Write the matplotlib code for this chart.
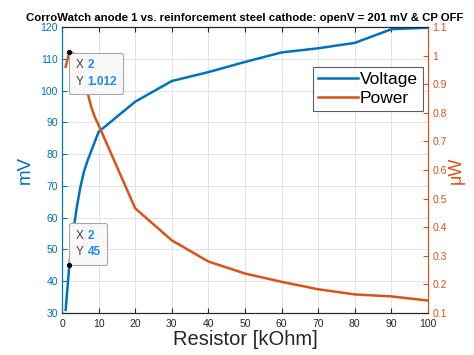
import matplotlib
matplotlib.use('Agg')
import matplotlib.pyplot as plt
from matplotlib.offsetbox import TextArea, HPacker, VPacker, AnnotationBbox

plt.rcParams['font.family'] = ['Liberation Sans', 'DejaVu Sans']

# Data
resistor = [1, 2, 3, 4, 5, 6, 7, 8, 9, 10, 20, 30, 40, 50, 60, 70, 80, 90, 100]
voltage = [31, 45, 55, 63, 69.5, 74.5, 78, 81, 84, 87, 96.5, 103, 105.8, 109,
           112, 113.3, 115, 119.3, 119.8]
power = [0.961, 1.012, 1.008, 0.992, 0.966, 0.925, 0.869, 0.820, 0.784, 0.757,
         0.466, 0.354, 0.280, 0.238, 0.209, 0.183, 0.165, 0.158, 0.1435]

x_ticks = list(range(0, 101, 10))
left_ticks = list(range(30, 121, 10))
right_ticks = [0.1, 0.2, 0.3, 0.4, 0.5, 0.6, 0.7, 0.8, 0.9, 1, 1.1]
right_labels = ['0.1', '0.2', '0.3', '0.4', '0.5', '0.6', '0.7', '0.8', '0.9', '1', '1.1']

blue = '#0072BD'
orange = '#D95319'
dark = '#262626'
tip_blue = '#1a8cf0'

fig = plt.figure(figsize=(4.74, 3.55), dpi=100)
ax = fig.add_axes([62 / 474, 1 - 313 / 355, 366 / 474, 286 / 355])
ax2 = ax.twinx()

l1, = ax.plot(resistor, voltage, color=blue, lw=1.8, label='Voltage')
l2, = ax2.plot(resistor, power, color=orange, lw=1.8, label='Power')

ax.set_xlim(0, 100)
ax.set_ylim(30, 120)
ax2.set_ylim(0.1, 1.1)
ax.set_xticks(x_ticks)
ax.set_yticks(left_ticks)
ax2.set_yticks(right_ticks)
ax2.set_yticklabels(right_labels)

ax.grid(True, color='#e3e3e3', lw=0.7)
ax.set_axisbelow(True)

ax.tick_params(axis='x', direction='in', top=True, length=3.5, labelsize=7.5,
               colors=dark, pad=4)
ax.tick_params(axis='y', direction='in', length=3.5, labelsize=7.5, colors=blue, pad=3)
ax2.tick_params(axis='y', direction='in', length=3.5, labelsize=7.5, colors=orange, pad=3)

for a in (ax, ax2):
    a.spines['top'].set_color(dark)
    a.spines['bottom'].set_color(dark)
    a.spines['left'].set_color(blue)
    a.spines['right'].set_color(orange)
    for s in a.spines.values():
        s.set_linewidth(0.8)

ax.set_xlabel('Resistor [kOhm]', fontsize=14.5, color=dark, labelpad=1)
ax.set_ylabel('mV', fontsize=13.5, color=blue, labelpad=5)
ax2.set_ylabel('\u03bcW', fontsize=13, color=orange, labelpad=1)
ax.set_title('CorroWatch anode 1 vs. reinforcement steel cathode: openV = 201 mV & CP OFF',
             fontsize=8.2, fontweight='bold', color='black', pad=4)

leg = ax.legend(handles=[l1, l2], loc='upper right', bbox_to_anchor=(0.986, 0.86),
                fontsize=12.5, frameon=True, fancybox=False, handlelength=2.3,
                handletextpad=0.1, borderpad=0.3, labelspacing=0.2, borderaxespad=0)
leg.get_frame().set_edgecolor('#333333')
leg.get_frame().set_linewidth(0.8)


# data tips
def datatip(axis, x, y, align, dy):
    rows = []
    for name, val in (('X', f'{x:g}'), ('Y', f'{y:g}')):
        rows.append(HPacker(children=[
            TextArea(name, textprops=dict(color='#404040', fontsize=8.5)),
            TextArea(val, textprops=dict(color=tip_blue, fontsize=8.5, fontweight='bold'))],
            pad=0, sep=3))
    box = VPacker(children=rows, pad=0, sep=3.5, align='left')
    ab = AnnotationBbox(box, (x, y), xybox=(4.5, dy), boxcoords='offset points',
                        box_alignment=align, pad=0.45,
                        bboxprops=dict(facecolor='#f8f8f8', edgecolor='#a8a8a8', lw=0.8,
                                       boxstyle='round,pad=0.45,rounding_size=0.15'))
    ab.set_zorder(10)
    axis.add_artist(ab)
    axis.plot([x], [y], 'o', color='black', ms=2.8, zorder=11)


datatip(ax, resistor[1], voltage[1], (0, 0), 5)
datatip(ax2, resistor[1], power[1], (0, 1), -5)

fig.savefig('out.png', dpi=100)
